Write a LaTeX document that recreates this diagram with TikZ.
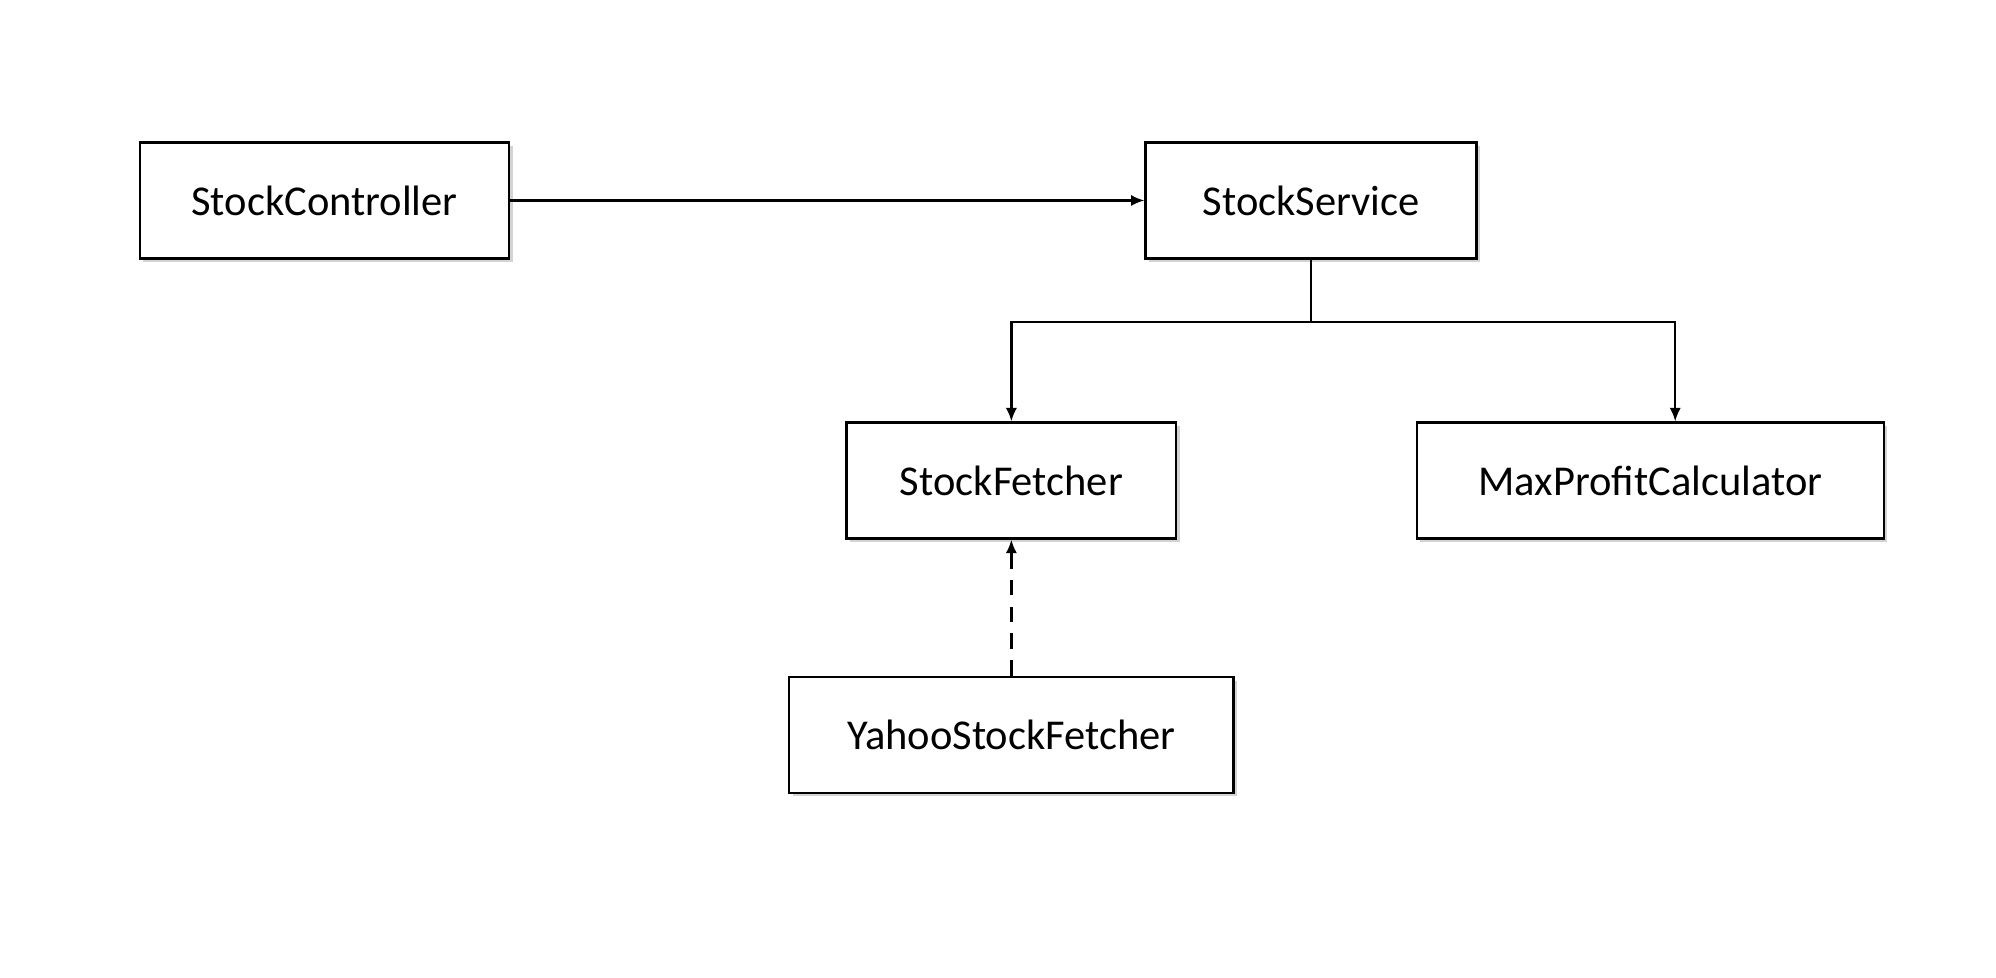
\documentclass[tikz,border=0pt]{standalone}
\usepackage{fontspec}
\setmainfont{Carlito}
\usetikzlibrary{shadows,arrows.meta}
\tikzset{
  cls/.style={draw,line width=1.1pt,fill=white,minimum height=1.82cm,font=\fontsize{19}{22}\selectfont,
    drop shadow={shadow xshift=1.5pt,shadow yshift=-1.5pt,opacity=0.35}},
  link/.style={line width=1pt,-{Latex[length=6pt,width=5pt]}}
}
\begin{document}
\begin{tikzpicture}
\useasboundingbox (0,0) rectangle (31.36,15.36);
\node[cls,minimum width=5.8cm] (ctrl) at (5.1,12.21) {StockController};
\node[cls,minimum width=5.2cm] (svc) at (20.6,12.21) {StockService};
\node[cls,minimum width=5.18cm] (fetch) at (15.89,7.81) {StockFetcher};
\node[cls,minimum width=7.34cm] (calc) at (25.93,7.81) {MaxProfitCalculator};
\node[cls,minimum width=6.98cm] (yahoo) at (15.89,3.81) {YahooStockFetcher};
\coordinate (split) at (20.6,10.3);
\coordinate (calctop) at (26.32,10.3);
\draw[link] (ctrl) -- (svc);
\draw[line width=1pt] (svc) -- (split);
\draw[link] (split) -| (fetch);
\draw[link] (split) -- (calctop) -- (calctop |- calc.north);
\draw[link,dash pattern=on 7pt off 5pt] (yahoo) -- (fetch);
\end{tikzpicture}
\end{document}
